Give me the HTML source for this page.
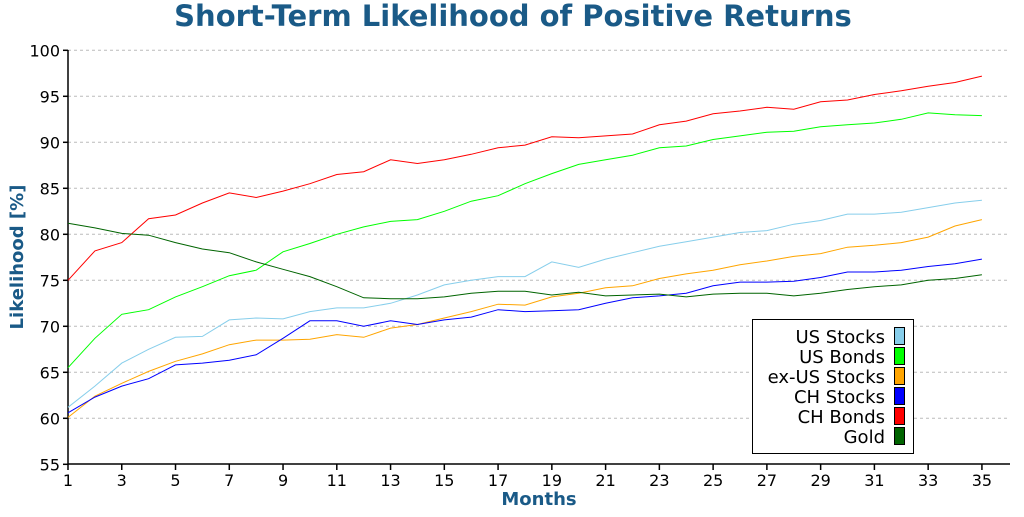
<!DOCTYPE html><html><head><style>body{margin:0;background:#fff}svg{font-family:"DejaVu Sans",sans-serif}</style></head><body>
<svg id="s" width="1024" height="512" xmlns="http://www.w3.org/2000/svg">
<text x="513" y="26" text-anchor="middle" font-size="29" font-weight="bold" fill="#1a5a87">Short-Term Likelihood of Positive Returns</text>
<text x="539" y="505" text-anchor="middle" font-size="18" font-weight="bold" fill="#1a5a87">Months</text>
<text transform="translate(23,257) rotate(-90)" text-anchor="middle" font-size="18" font-weight="bold" fill="#1a5a87">Likelihood [%]</text>
<g id="g"></g>
<rect x="752.5" y="319.5" width="161" height="134" fill="#fff" stroke="#000"/>
<g font-size="18" text-anchor="end">
<text x="885" y="343">US Stocks</text><text x="885" y="363">US Bonds</text><text x="885" y="383">ex-US Stocks</text><text x="885" y="403">CH Stocks</text><text x="885" y="423">CH Bonds</text><text x="885" y="443">Gold</text></g>
<g stroke="#000"><rect x="894.5" y="327.5" width="10" height="17" fill="#87ceeb"/><rect x="894.5" y="347.5" width="10" height="17" fill="#00ff00"/><rect x="894.5" y="367.5" width="10" height="17" fill="#ffa500"/><rect x="894.5" y="387.5" width="10" height="17" fill="#0000ff"/><rect x="894.5" y="407.5" width="10" height="17" fill="#ff0000"/><rect x="894.5" y="427.5" width="10" height="17" fill="#006400"/></g>
</svg>
<script>
var g=document.getElementById('g'),h='';
function X(m){return 68+(m-1)*26.88}function Y(v){return 50.3+(100-v)*9.2}
for(var v=55;v<=100;v+=5){var y=Y(v);if(v>55)h+='<line x1="68" x2="1010" y1="'+y+'" y2="'+y+'" stroke="#bbb" stroke-dasharray="3,3"/>';h+='<line x1="63" x2="68" y1="'+y+'" y2="'+y+'" stroke="#000" stroke-width="1.5"/><text x="60" y="'+(y+6)+'" font-size="16" text-anchor="end">'+v+'</text>';}
for(var m=1;m<=35;m+=2){var x=X(m);h+='<line x1="'+x+'" x2="'+x+'" y1="464" y2="470" stroke="#000" stroke-width="1.5"/><text x="'+x+'" y="486" font-size="16" text-anchor="middle">'+m+'</text>';}
h+='<line x1="68" x2="1010" y1="464" y2="464" stroke="#000" stroke-width="1.5"/><line x1="68" x2="68" y1="50" y2="464" stroke="#000" stroke-width="1.5"/>';
var S=[["#87ceeb",[61.2,63.5,66,67.5,68.8,68.9,70.7,70.9,70.8,71.6,72,72,72.5,73.4,74.5,75,75.4,75.4,77,76.4,77.3,78,78.7,79.2,79.7,80.2,80.4,81.1,81.5,82.2,82.2,82.4,82.9,83.4,83.7]],
["#00ff00",[65.5,68.7,71.3,71.8,73.2,74.3,75.5,76.1,78.1,79,80,80.8,81.4,81.6,82.5,83.6,84.2,85.5,86.6,87.6,88.1,88.6,89.4,89.6,90.3,90.7,91.1,91.2,91.7,91.9,92.1,92.5,93.2,93.0,92.9]],
["#ffa500",[60.1,62.4,63.8,65.1,66.2,67,68,68.5,68.5,68.6,69.1,68.8,69.8,70.2,70.9,71.6,72.4,72.3,73.2,73.6,74.2,74.4,75.2,75.7,76.1,76.7,77.1,77.6,77.9,78.6,78.8,79.1,79.7,80.9,81.6]],
["#0000ff",[60.6,62.3,63.5,64.3,65.8,66,66.3,66.9,68.7,70.6,70.6,70,70.6,70.2,70.7,71,71.8,71.6,71.7,71.8,72.5,73.1,73.3,73.6,74.4,74.8,74.8,74.9,75.3,75.9,75.9,76.1,76.5,76.8,77.3]],
["#ff0000",[75,78.2,79.1,81.7,82.1,83.4,84.5,84,84.7,85.5,86.5,86.8,88.1,87.7,88.1,88.7,89.4,89.7,90.6,90.5,90.7,90.9,91.9,92.3,93.1,93.4,93.8,93.6,94.4,94.6,95.2,95.6,96.1,96.5,97.2]],
["#006400",[81.2,80.7,80.1,79.9,79.1,78.4,78,77,76.2,75.4,74.3,73.1,73,73,73.2,73.6,73.8,73.8,73.4,73.7,73.3,73.4,73.5,73.2,73.5,73.6,73.6,73.3,73.6,74,74.3,74.5,75,75.2,75.6]]];
S.forEach(function(s){var p=s[1].map(function(v,i){return X(i+1).toFixed(1)+','+Y(v).toFixed(1)}).join(' ');h+='<polyline points="'+p+'" fill="none" stroke="'+s[0]+'" stroke-width="1"/>';});
g.innerHTML=h;
</script></body></html>
